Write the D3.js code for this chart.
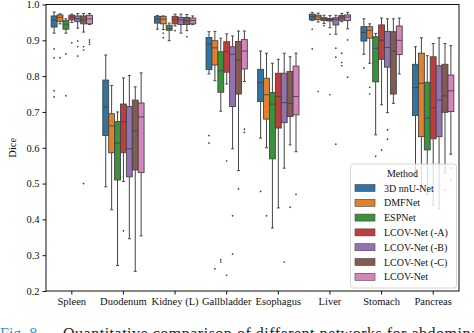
<!DOCTYPE html>
<html>
<head>
<meta charset="utf-8">
<script src="https://cdn.jsdelivr.net/npm/d3@7"></script>
<style>
  body { margin: 0; background: #fff; }
</style>
</head>
<body>
<div id="chart"></div>
<script>
// Categories and series
const organs = ["Spleen", "Duodenum", "Kidney (L)", "Gallbladder", "Esophagus", "Liver", "Stomach", "Pancreas"];
const methods = ["3D nnU-Net", "DMFNet", "ESPNet", "LCOV-Net (-A)", "LCOV-Net (-B)", "LCOV-Net (-C)", "LCOV-Net"];
const colors = ["#3274a1", "#e1812c", "#3a923a", "#c03d3e", "#9372b2", "#845b53", "#d684bd"];
const yTicks = [0.2, 0.3, 0.4, 0.5, 0.6, 0.7, 0.8, 0.9, 1.0];

// Box stats per method: [whisker low, q1, median, q3, whisker high]
const spleen = [
  [0.920, 0.937, 0.957, 0.968, 0.979],
  [0.946, 0.953, 0.964, 0.971, 0.974],
  [0.920, 0.931, 0.945, 0.955, 0.960],
  [0.950, 0.957, 0.965, 0.970, 0.973],
  [0.934, 0.952, 0.960, 0.968, 0.975],
  [0.923, 0.946, 0.957, 0.968, 0.975],
  [0.944, 0.946, 0.960, 0.970, 0.975]
];
const duodenum = [
  [0.491, 0.634, 0.714, 0.789, 0.859],
  [0.427, 0.586, 0.661, 0.695, 0.774],
  [0.271, 0.510, 0.613, 0.673, 0.700],
  [0.506, 0.586, 0.673, 0.722, 0.795],
  [0.346, 0.519, 0.597, 0.715, 0.802],
  [0.255, 0.538, 0.647, 0.733, 0.770],
  [0.354, 0.531, 0.686, 0.725, 0.809]
];
const kidneyL = [
  [0.931, 0.948, 0.959, 0.967, 0.969],
  [0.930, 0.946, 0.959, 0.967, 0.968],
  [0.899, 0.928, 0.933, 0.942, 0.948],
  [0.940, 0.946, 0.959, 0.967, 0.973],
  [0.920, 0.944, 0.957, 0.964, 0.973],
  [0.927, 0.944, 0.955, 0.964, 0.972],
  [0.944, 0.946, 0.955, 0.962, 0.968]
];
const gallbladder = [
  [0.806, 0.818, 0.889, 0.908, 0.924],
  [0.787, 0.831, 0.879, 0.899, 0.925],
  [0.702, 0.755, 0.815, 0.868, 0.906],
  [0.778, 0.811, 0.868, 0.896, 0.918],
  [0.597, 0.715, 0.861, 0.882, 0.912],
  [0.536, 0.750, 0.845, 0.897, 0.926],
  [0.785, 0.820, 0.870, 0.902, 0.926]
];
const esophagus = [
  [0.627, 0.729, 0.782, 0.819, 0.870],
  [0.600, 0.680, 0.748, 0.794, 0.864],
  [0.376, 0.569, 0.722, 0.754, 0.836],
  [0.432, 0.655, 0.743, 0.808, 0.847],
  [0.543, 0.670, 0.726, 0.808, 0.864],
  [0.608, 0.687, 0.724, 0.813, 0.854],
  [0.589, 0.692, 0.743, 0.828, 0.864]
];
const liver = [
  [0.955, 0.957, 0.966, 0.973, 0.978],
  [0.951, 0.958, 0.965, 0.970, 0.976],
  [0.947, 0.955, 0.960, 0.963, 0.970],
  [0.935, 0.954, 0.958, 0.961, 0.969],
  [0.917, 0.943, 0.958, 0.963, 0.970],
  [0.952, 0.956, 0.965, 0.969, 0.975],
  [0.932, 0.955, 0.965, 0.971, 0.978]
];
const stomach = [
  [0.861, 0.898, 0.922, 0.938, 0.960],
  [0.836, 0.906, 0.928, 0.938, 0.946],
  [0.636, 0.784, 0.878, 0.910, 0.919],
  [0.720, 0.847, 0.900, 0.943, 0.962],
  [0.698, 0.825, 0.880, 0.925, 0.960],
  [0.724, 0.750, 0.870, 0.924, 0.960],
  [0.806, 0.860, 0.900, 0.940, 0.962]
];
const pancreas = [
  [0.520, 0.690, 0.768, 0.833, 0.882],
  [0.490, 0.631, 0.780, 0.864, 0.907],
  [0.470, 0.594, 0.683, 0.783, 0.857],
  [0.440, 0.625, 0.712, 0.854, 0.891],
  [0.430, 0.631, 0.733, 0.829, 0.907],
  [0.530, 0.699, 0.745, 0.833, 0.891],
  [0.582, 0.701, 0.759, 0.803, 0.885]
];

// Outliers per method
const spleenOut = [[0.876, 0.851, 0.759, 0.742], [0.851], [0.862, 0.745], [0.893], [0.898, 0.882, 0.856], [0.882, 0.873, 0.500], [0.901, 0.895, 0.889]];
const duodenumOut = [[], [], [], [0.368], [], [], []];
const kidneyLOut = [[], [0.920, 0.907], [], [0.927], [], [0.910], []];
const gallbladderOut = [[0.634, 0.613], [0.262], [0.287, 0.281], [0.563, 0.244], [0.410, 0.303], [0.485], [0.652, 0.643]];
const esophagusOut = [[0.478], [0.410], [], [], [0.281], [0.434], [0.470]];
const liverOut = [[0.931, 0.876], [0.757], [0.941], [0.917, 0.748], [0.878, 0.853, 0.610], [0.864, 0.838, 0.829], [0.901, 0.797]];
const stomachOut = [[0.823], [0.769, 0.750], [0.576], [0.594], [0.650, 0.624], [], []];
const pancreasOut = [[], [], [], [], [], [0.483], [0.543, 0.510]];

const stats = [spleen, duodenum, kidneyL, gallbladder, esophagus, liver, stomach, pancreas];
const fliers = [spleenOut, duodenumOut, kidneyLOut, gallbladderOut, esophagusOut, liverOut, stomachOut, pancreasOut];

const width = 474, height = 333;
const margin = { top: 4.5, right: 15, bottom: 42, left: 46 };
const edge = "#444";
const font = "Liberation Serif";

const svg = d3.select("#chart").append("svg")
  .attr("width", width)
  .attr("height", height)
  .style("display", "block");

const x = d3.scaleBand().domain(organs).range([margin.left, width - margin.right]);
const inner = d3.scaleBand().domain(methods).range([-x.bandwidth() * 0.4, x.bandwidth() * 0.4]);
const y = d3.scaleLinear().domain([0.2, 1.0]).range([height - margin.bottom, margin.top]);

// axes
const xAxis = svg.append("g")
  .attr("transform", `translate(0,${height - margin.bottom})`)
  .call(d3.axisBottom(x).tickSize(3.5).tickSizeOuter(0).tickPadding(3));
const yAxis = svg.append("g")
  .attr("transform", `translate(${margin.left},0)`)
  .call(d3.axisLeft(y).tickValues(yTicks).tickFormat(d3.format(".1f")).tickSize(3.5).tickSizeOuter(0).tickPadding(3));
[xAxis, yAxis].forEach((g) => {
  g.select(".domain").remove();
  g.selectAll("line").attr("stroke", "#111");
  g.selectAll("text")
    .attr("font-family", font)
    .attr("font-size", 10.5)
    .attr("fill", "#111");
});

svg.append("text")
  .attr("transform", `translate(16,${(margin.top + height - margin.bottom) / 2}) rotate(-90)`)
  .attr("text-anchor", "middle")
  .attr("font-family", font)
  .attr("font-size", 10.5)
  .attr("fill", "#111")
  .text("Dice");

// boxes
const bw = inner.bandwidth();
const groups = svg.selectAll(".organ")
  .data(organs)
  .enter()
  .append("g")
  .attr("transform", (d) => `translate(${x(d) + x.bandwidth() / 2},0)`);

groups.each(function (organ, i) {
  const g = d3.select(this);
  stats[i].forEach((s, j) => {
    const m = methods[j];
    const x0 = inner(m), cx = x0 + bw / 2;
    const [lo, q1, med, q3, hi] = s;
    g.append("line").attr("x1", cx).attr("x2", cx).attr("y1", y(lo)).attr("y2", y(q1))
      .attr("stroke", edge).attr("stroke-width", 1);
    g.append("line").attr("x1", cx).attr("x2", cx).attr("y1", y(q3)).attr("y2", y(hi))
      .attr("stroke", edge).attr("stroke-width", 1);
    [lo, hi].forEach((v) => {
      g.append("line").attr("x1", cx - bw / 4).attr("x2", cx + bw / 4).attr("y1", y(v)).attr("y2", y(v))
        .attr("stroke", edge).attr("stroke-width", 1);
    });
    g.append("rect")
      .attr("x", x0).attr("width", bw)
      .attr("y", y(q3)).attr("height", y(q1) - y(q3))
      .attr("fill", colors[j]).attr("stroke", edge).attr("stroke-width", 0.9);
    g.append("line").attr("x1", x0).attr("x2", x0 + bw).attr("y1", y(med)).attr("y2", y(med))
      .attr("stroke", edge).attr("stroke-width", 0.9);
    g.selectAll(null)
      .data(fliers[i][j])
      .enter()
      .append("path")
      .attr("d", d3.symbol(d3.symbolDiamond2, 3))
      .attr("transform", (v) => `translate(${cx},${y(v)})`)
      .attr("fill", edge);
  });
});

// frame
svg.append("rect")
  .attr("x", margin.left).attr("y", margin.top)
  .attr("width", width - margin.left - margin.right)
  .attr("height", height - margin.top - margin.bottom)
  .attr("fill", "none").attr("stroke", "#111").attr("stroke-width", 1);

// legend
const legend = svg.append("g").attr("transform", "translate(350.5,164)");
legend.append("rect")
  .attr("width", 106).attr("height", 124).attr("rx", 2.5)
  .attr("fill", "#fff").attr("fill-opacity", 0.8)
  .attr("stroke", "#ccc").attr("stroke-width", 0.8);
legend.append("text")
  .attr("x", 52).attr("y", 12.5)
  .attr("text-anchor", "middle")
  .attr("font-family", font).attr("font-size", 10).attr("fill", "#111")
  .text("Method");
const rows = legend.selectAll(".row")
  .data(methods)
  .enter()
  .append("g")
  .attr("transform", (d, i) => `translate(0,${24 + i * 14.8})`);
rows.append("rect")
  .attr("x", 4.5).attr("y", -3.5).attr("width", 20).attr("height", 7)
  .attr("fill", (d, i) => colors[i]).attr("stroke", edge).attr("stroke-width", 0.6);
rows.append("text")
  .attr("x", 33.5).attr("y", 3.6)
  .attr("font-family", font).attr("font-size", 10).attr("fill", "#111")
  .text((d) => d);

// caption, running off the bottom edge
svg.append("text")
  .attr("x", 0).attr("y", 339)
  .attr("font-family", font).attr("font-size", 16).attr("fill", "#4a90c8")
  .text("Fig. 8.");
svg.append("text")
  .attr("x", 63).attr("y", 339)
  .attr("font-family", font).attr("font-size", 16).attr("fill", "#222")
  .attr("textLength", 420).attr("lengthAdjust", "spacing")
  .text("Quantitative comparison of different networks for abdominal");
</script>
</body>
</html>
